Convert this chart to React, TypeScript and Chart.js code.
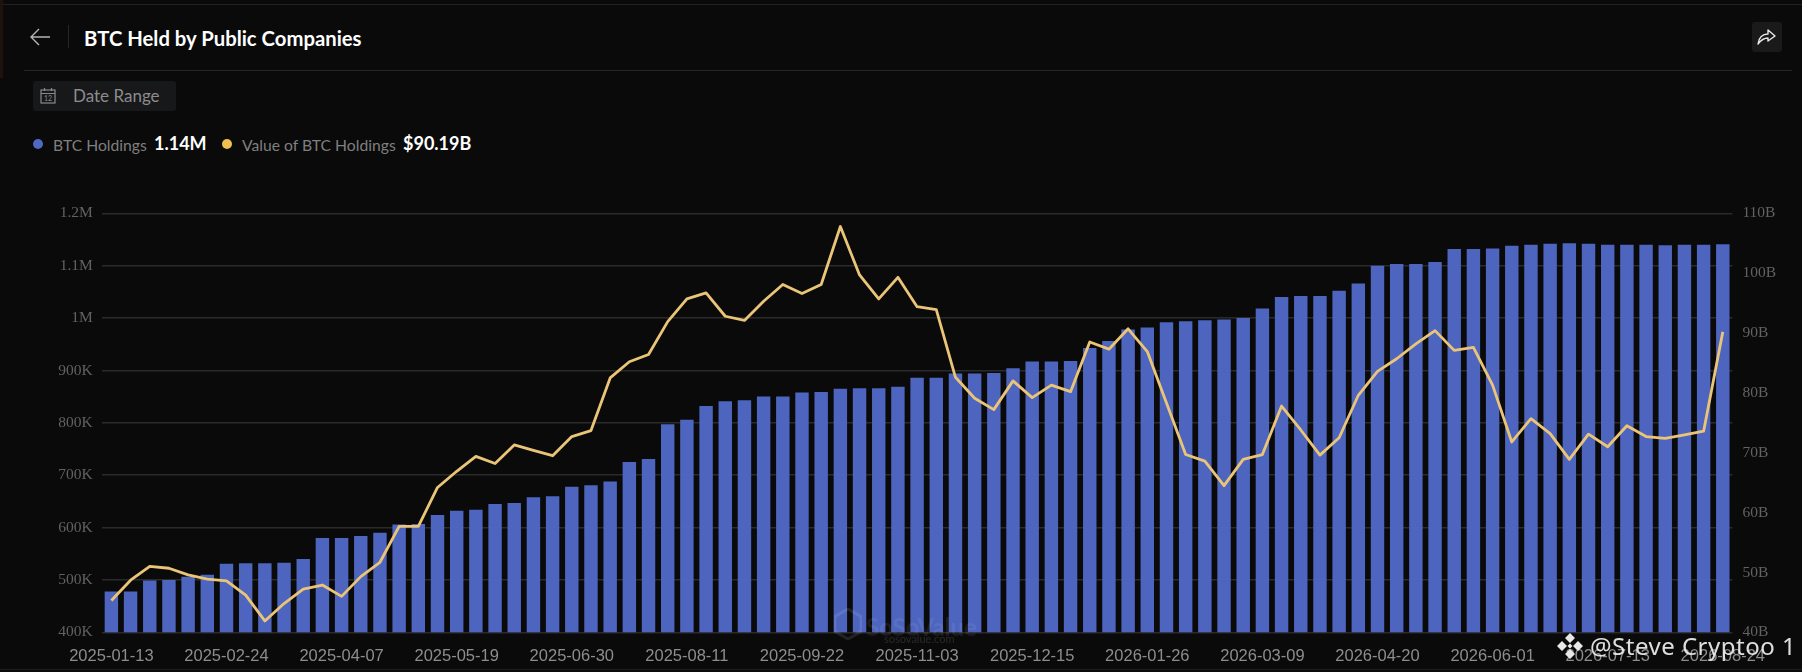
import React, { useEffect, useRef } from "react";
import { Chart, registerables } from "chart.js";

Chart.register(...registerables);

const dates = [
  "2025-01-13","2025-01-20","2025-01-27","2025-02-03","2025-02-10","2025-02-17","2025-02-24",
  "2025-03-03","2025-03-10","2025-03-17","2025-03-24","2025-03-31","2025-04-07","2025-04-14",
  "2025-04-21","2025-04-28","2025-05-05","2025-05-12","2025-05-19","2025-05-26","2025-06-02",
  "2025-06-09","2025-06-16","2025-06-23","2025-06-30","2025-07-07","2025-07-14","2025-07-21",
  "2025-07-28","2025-08-04","2025-08-11","2025-08-18","2025-08-25","2025-09-01","2025-09-08",
  "2025-09-15","2025-09-22","2025-09-29","2025-10-06","2025-10-13","2025-10-20","2025-10-27",
  "2025-11-03","2025-11-10","2025-11-17","2025-11-24","2025-12-01","2025-12-08","2025-12-15",
  "2025-12-22","2025-12-29","2026-01-05","2026-01-12","2026-01-19","2026-01-26","2026-02-02",
  "2026-02-09","2026-02-16","2026-02-23","2026-03-02","2026-03-09","2026-03-16","2026-03-23",
  "2026-03-30","2026-04-06","2026-04-13","2026-04-20","2026-04-27","2026-05-04","2026-05-11",
  "2026-05-18","2026-05-25","2026-06-01","2026-06-08","2026-06-15","2026-06-22","2026-06-29",
  "2026-07-06","2026-07-13","2026-07-20","2026-07-27","2026-08-03","2026-08-10","2026-08-17",
  "2026-08-24",
];

// BTC held, in thousands of BTC
const btcHoldings = [
  478,478,499,500,506,510,531,532,532,533,540,580,580,584,590,606,607,624,632,634,645,647,658,660,678,681,
  688,725,731,797,806,832,841,843,850,850,858,859,865,866,866,869,886,886,894,894,895,904,917,917,918,943,
  956,978,982,992,994,996,997,1000,1018,1040,1042,1042,1052,1066,1100,1103,1103,1107,1132,1132,1133,1138,
  1140,1142,1143,1142,1140,1140,1140,1139,1140,1140,1141,
];

// Value of the holdings, in billions of USD
const holdingsValue = [
  45.3,48.7,51.0,50.7,49.6,48.9,48.6,46.2,41.9,44.8,47.2,47.9,46.0,49.3,51.7,57.7,57.7,64.2,66.9,69.4,68.2,
  71.3,70.4,69.5,72.7,73.7,82.5,85.2,86.4,91.9,95.7,96.7,92.8,92.1,95.3,98.1,96.6,98.1,107.8,99.7,95.7,99.3,
  94.4,93.9,82.6,79.1,77.2,82.0,79.2,81.3,80.2,88.5,87.3,90.7,86.9,78.3,69.7,68.6,64.5,68.9,69.7,77.8,73.8,
  69.6,72.5,79.6,83.6,85.7,88.2,90.4,87.1,87.6,81.3,71.8,75.7,73.2,68.9,73.1,71.0,74.5,72.7,72.4,73.0,73.6,90.19,
];

const formatHoldings = (v: number) => (v >= 1000 ? `${v / 1000}M` : `${v}K`);
const formatValue = (v: number) => `${v}B`;

const LATO = "Lato, 'Noto Sans', sans-serif";

function Dot({ x, color }: { x: number; color: string }) {
  return (
    <div
      style={{
        position: "absolute", left: x - 5, top: 139, width: 10, height: 10,
        borderRadius: "50%", background: color,
      }}
    />
  );
}

function Label(props: { x: number; y: number; size: number; color: string; bold?: boolean; children: React.ReactNode }) {
  const { x, y, size, color, bold, children } = props;
  return (
    <div
      style={{
        position: "absolute", left: x, top: y, transform: "translateY(-50%)", fontFamily: LATO,
        fontSize: size, color, fontWeight: bold ? 700 : 400, whiteSpace: "nowrap", lineHeight: 1.2,
      }}
    >
      {children}
    </div>
  );
}

export default function App() {
  const ref = useRef<HTMLCanvasElement | null>(null);

  useEffect(() => {
    document.body.style.margin = "0";
    document.body.style.background = "#0a0a0b";
    const chart = new Chart(ref.current as HTMLCanvasElement, {
      type: "bar",
      data: {
        labels: dates,
        datasets: [
          {
            type: "bar",
            label: "BTC Holdings",
            data: btcHoldings,
            yAxisID: "y",
            backgroundColor: "rgba(79,104,196,0.97)",
            categoryPercentage: 0.7,
            barPercentage: 1,
            order: 2,
          },
          {
            type: "line",
            label: "Value of BTC Holdings",
            data: holdingsValue,
            yAxisID: "y1",
            borderColor: "#ebc577",
            borderWidth: 2.8,
            pointRadius: 0,
            tension: 0,
            borderJoinStyle: "round",
            order: 1,
          },
        ],
      } as any,
      options: {
        animation: false,
        responsive: false,
        maintainAspectRatio: false,
        layout: { padding: { top: 213.3, left: 0, right: 0, bottom: 0 } },
        plugins: { legend: { display: false }, tooltip: { enabled: false } },
        scales: {
          x: {
            offset: true,
            border: { display: false },
            grid: { display: false },
            afterFit: (s: any) => { s.height = 39.7; },
            ticks: {
              autoSkip: false,
              maxRotation: 0,
              minRotation: 0,
              padding: 6,
              color: "#8d8d8d",
              font: { family: "'Liberation Sans', Arial, sans-serif", size: 16.5 },
              callback: (_v: any, i: number) => (i % 6 === 0 ? dates[i] : ""),
            },
          },
          y: {
            position: "left",
            min: 400,
            max: 1200,
            border: { display: false },
            afterFit: (s: any) => { s.width = 101.8; },
            grid: { color: "#2a2a2a", lineWidth: 1.4, drawTicks: false },
            ticks: {
              stepSize: 100,
              padding: 9,
              color: "#626262",
              font: { family: "'Liberation Serif', serif", size: 15.5 },
              callback: (v: any) => formatHoldings(Number(v)),
            },
          },
          y1: {
            position: "right",
            min: 40,
            max: 110,
            border: { display: false },
            afterFit: (s: any) => { s.width = 69.6; },
            grid: { display: false, drawTicks: false },
            ticks: {
              stepSize: 10,
              padding: 10,
              color: "#626262",
              font: { family: "'Liberation Serif', serif", size: 15.5 },
              callback: (v: any) => formatValue(Number(v)),
            },
          },
        },
      },
    } as any);
    return () => chart.destroy();
  }, []);

  return (
    <div
      style={{
        position: "absolute", left: 0, top: 0, width: 1802, height: 672,
        background: "#0a0a0b", overflow: "hidden",
      }}
    >
      {/* frame lines */}
      <div style={{ position: "absolute", left: 0, top: 4, width: 1802, height: 1, background: "#222" }} />
      <div style={{ position: "absolute", left: 0, top: 0, width: 3, height: 78, background: "#1f120c" }} />
      <div style={{ position: "absolute", left: 0, top: 669, width: 1802, height: 1, background: "#1d1d1d" }} />
      <div style={{ position: "absolute", left: 24, top: 70, width: 1768, height: 1, background: "#262626" }} />

      {/* header */}
      <svg style={{ position: "absolute", left: 30, top: 27 }} width="22" height="20" viewBox="0 0 22 20" fill="none">
        <path d="M1 10 H20 M9 2 L1 10 L9 18" stroke="#b5b5b5" strokeWidth="1.4" />
      </svg>
      <div style={{ position: "absolute", left: 68, top: 25, width: 1, height: 23, background: "#262626" }} />
      <Label x={84} y={37.5} size={20.3} color="#ffffff" bold>BTC Held by Public Companies</Label>

      <div style={{ position: "absolute", left: 1752, top: 22, width: 30, height: 30, borderRadius: 3, background: "#1a1a1b" }} />
      <svg style={{ position: "absolute", left: 1757, top: 28 }} width="20" height="18" viewBox="0 0 20 18" fill="none">
        <path d="M1 16 C2 9 6 6 11 6 V2 L18 8 L11 13 V10 C7 10 4 12 1 16 Z" stroke="#e8e8e8" strokeWidth="1.4" strokeLinejoin="round" />
      </svg>

      {/* date range button */}
      <div style={{ position: "absolute", left: 33, top: 81, width: 143, height: 30, borderRadius: 3, background: "#17181a" }} />
      <svg style={{ position: "absolute", left: 40, top: 87 }} width="17" height="18" viewBox="0 0 17 18" fill="none">
        <rect x="1" y="3" width="14" height="13" stroke="#8a8a8a" strokeWidth="1.2" />
        <path d="M1 6.5 H15 M4.5 1 V4 M11.5 1 V4" stroke="#8a8a8a" strokeWidth="1.2" />
        <text x="8" y="14" textAnchor="middle" fontSize="7" fill="#8a8a8a" fontFamily="Lato, sans-serif">12</text>
      </svg>
      <Label x={73} y={96} size={17} color="#8c8c8c">Date Range</Label>

      {/* legend */}
      <Dot x={38} color="#4f68c4" />
      <Label x={53} y={144.5} size={15.7} color="#7f7f7f">BTC Holdings</Label>
      <Label x={154} y={144} size={18} color="#ffffff" bold>1.14M</Label>
      <Dot x={226.5} color="#eec04f" />
      <Label x={242} y={144.5} size={15.7} color="#7f7f7f">Value of BTC Holdings</Label>
      <Label x={403} y={144} size={18} color="#ffffff" bold>$90.19B</Label>

      <canvas ref={ref} width={1802} height={672} style={{ position: "absolute", left: 0, top: 0, width: 1802, height: 672 }} />

      {/* faint site watermark */}
      <svg style={{ position: "absolute", left: 834, top: 608, opacity: 0.1 }} width="28" height="32" viewBox="0 0 28 32" fill="none">
        <path d="M14 1 L27 8.5 V23.5 L14 31 L1 23.5 V8.5 Z" stroke="#ffffff" strokeWidth="3" />
      </svg>
      <div style={{ position: "absolute", left: 866, top: 612, fontFamily: LATO, fontSize: 24, fontWeight: 700, color: "rgba(255,255,255,0.07)", whiteSpace: "nowrap" }}>SoSoValue</div>
      <div style={{ position: "absolute", left: 884, top: 632, fontFamily: LATO, fontSize: 11, color: "rgba(255,255,255,0.12)", whiteSpace: "nowrap" }}>sosovalue.com</div>

      {/* repost watermark */}
      <svg style={{ position: "absolute", left: 1556, top: 632 }} width="28" height="28" viewBox="0 0 28 28" fill="#e8e8e8">
        <path d="M14 1 L19 6 L14 11 L9 6 Z M14 17 L19 22 L14 27 L9 22 Z M6 9 L11 14 L6 19 L1 14 Z M22 9 L27 14 L22 19 L17 14 Z M14 11.5 L16.5 14 L14 16.5 L11.5 14 Z" />
      </svg>
      <div style={{ position: "absolute", left: 1590, top: 629, fontFamily: "'Noto Sans', sans-serif", fontSize: 24, letterSpacing: 0.5, color: "rgba(240,240,240,0.92)", whiteSpace: "nowrap", lineHeight: "34px" }}>
        @Steve Cryptoo 1
      </div>
    </div>
  );
}
